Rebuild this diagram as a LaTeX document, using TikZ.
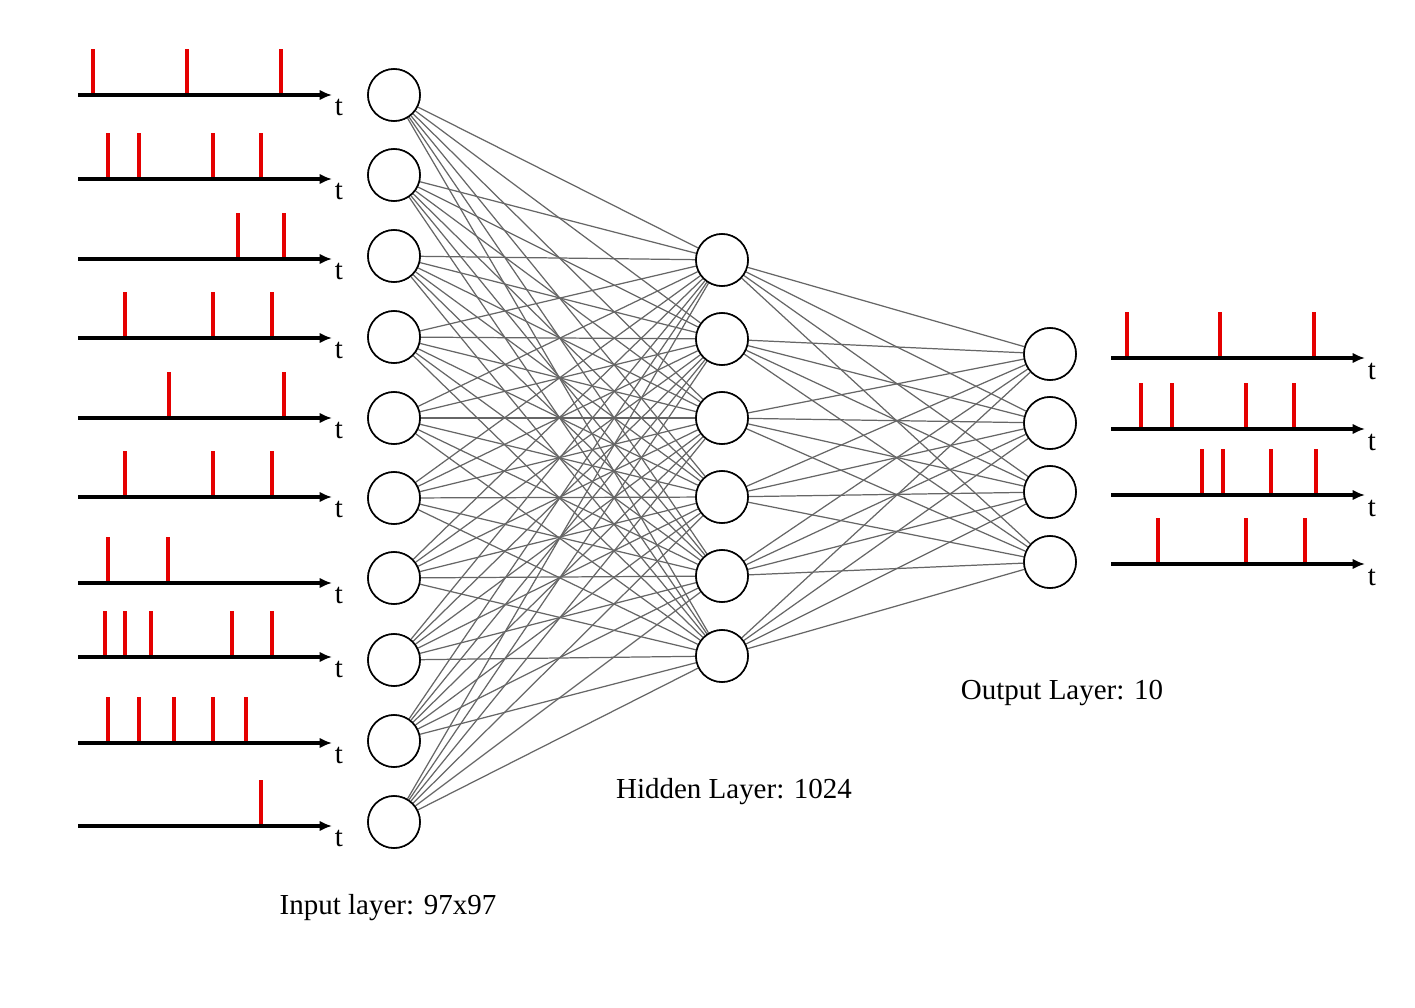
\documentclass[tikz,border=0pt]{standalone}
\usepackage{fontspec}
\setmainfont{Liberation Serif}
\usetikzlibrary{arrows.meta}
\begin{document}
\begin{tikzpicture}[x=0.02cm,y=-0.02cm,
  neuron/.style={circle,draw,line width=0.9pt,minimum size=1.04cm,inner sep=0pt,fill=white},
  conn/.style={draw=black!60,line width=0.7pt},
  axis/.style={line width=2pt,-{Latex[length=7pt,width=6pt]}},
  spike/.style={draw=red!90!black,line width=2.2pt},
  lbl/.style={font=\fontsize{16.5}{19}\selectfont}]
\useasboundingbox (0,0) rectangle (1415,1007);
\foreach \y [count=\i] in {95,175,256,337,418,498,578,660,741,822}
  \node[neuron] (i\i) at (394,\y) {};
\foreach \y [count=\i] in {260,339,418,497,576,656}
  \node[neuron] (h\i) at (722,\y) {};
\foreach \y [count=\i] in {354,423,492,562}
  \node[neuron] (o\i) at (1050,\y) {};
\foreach \i in {1,...,10}\foreach \j in {1,...,6}
  \draw[conn] (i\i) -- (h\j);
\foreach \j in {1,...,6}\foreach \k in {1,...,4}
  \draw[conn] (h\j) -- (o\k);
\foreach \i in {1,...,10} \node[neuron] at (i\i) {};
\foreach \i in {1,...,6} \node[neuron] at (h\i) {};
\foreach \i in {1,...,4} \node[neuron] at (o\i) {};
\foreach \y/\sp [count=\r] in {95/{93,187,281},179/{108,139,213,261},259/{238,284},338/{125,213,272},418/{169,284},497/{125,213,272},583/{108,168},657/{105,125,151,232,272},743/{108,139,174,213,246},826/{261}}{
  \coordinate (ls\r) at (78,\y); \coordinate (le\r) at (332,\y);
  \foreach \s in \sp \draw[spike] (\s,\y) -- (\s,\y-46);
  \draw[axis] (ls\r) -- (le\r);
  \node[lbl] (lt\r) at (339,\y+12) {t};
}
\foreach \y/\sp [count=\r] in {358/{1127,1220,1314},429/{1141,1172,1246,1294},495/{1202,1223,1271,1316},564/{1158,1246,1305}}{
  \coordinate (rs\r) at (1111,\y); \coordinate (re\r) at (1365,\y);
  \foreach \s in \sp \draw[spike] (\s,\y) -- (\s,\y-46);
  \draw[axis] (rs\r) -- (re\r);
  \node[lbl] (rt\r) at (1372,\y+13) {t};
}
\node[lbl] (li) at (388,908) {Input layer: 97x97};
\node[lbl] (lh) at (734,792) {Hidden Layer: 1024};
\node[lbl] (lo) at (1062,693) {Output Layer: 10};
\end{tikzpicture}
\end{document}
